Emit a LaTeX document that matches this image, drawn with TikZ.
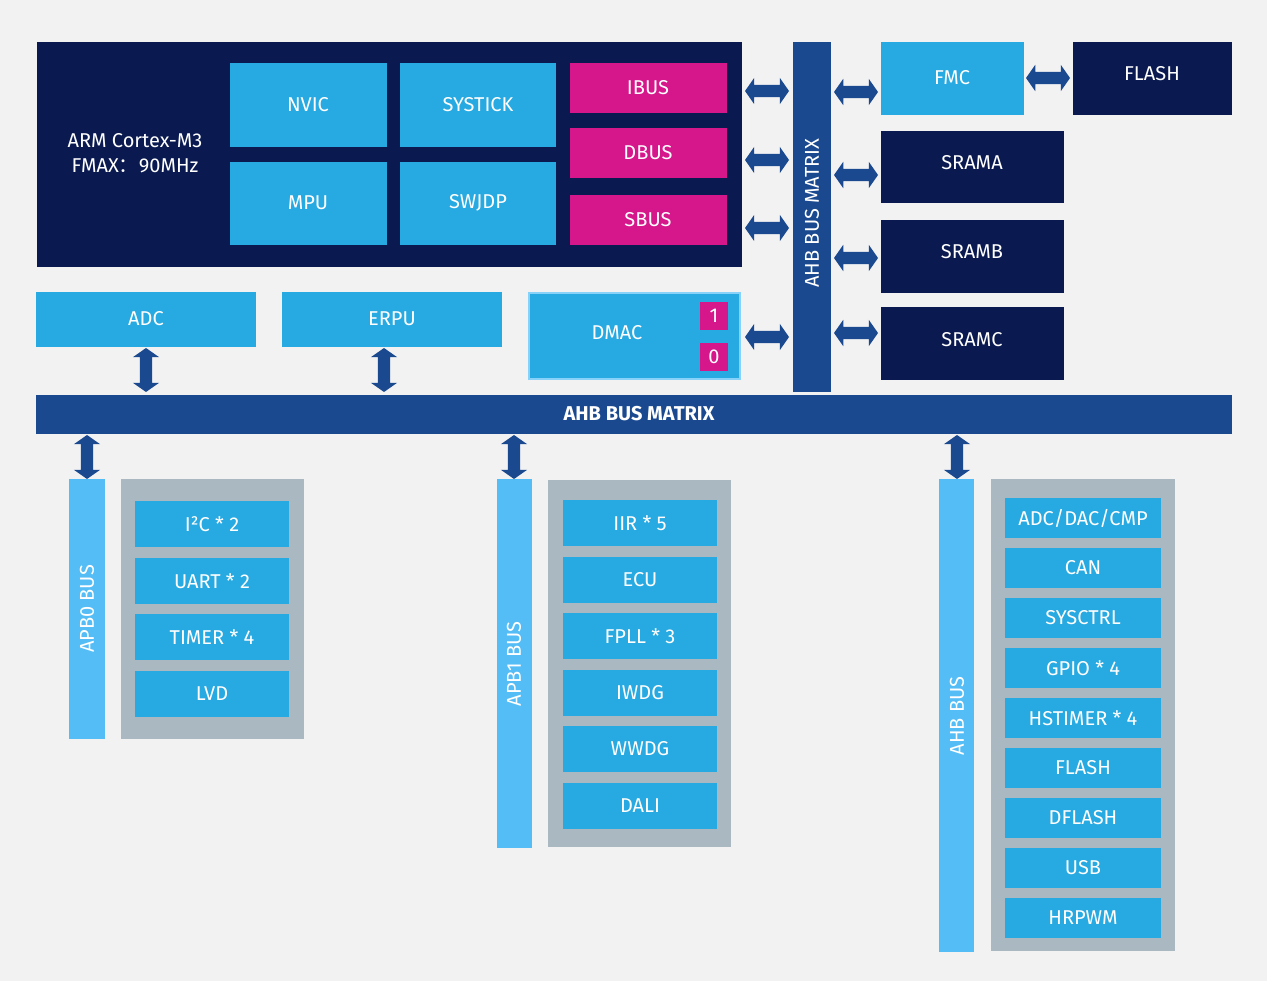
\documentclass[tikz,border=0pt]{standalone}
\usepackage{fontspec}
\setmainfont{Fira Sans}
\newfontfamily\cjk{Noto Sans CJK SC}
\usetikzlibrary{shapes.arrows}
\definecolor{bg}{HTML}{F2F2F2}
\definecolor{navy}{HTML}{0A1A50}
\definecolor{lblue}{HTML}{27A9E1}
\definecolor{mag}{HTML}{D6168B}
\definecolor{bus}{HTML}{1A4990}
\definecolor{sbus}{HTML}{55BDF6}
\definecolor{gpanel}{HTML}{A9B8C1}
\begin{document}
\begin{tikzpicture}[x=1pt,y=-1pt,
  bx/.style={draw=none,text=white,font=\fontsize{20}{22}\selectfont},
  dar/.style={double arrow,fill=bus,draw=none,inner sep=6pt,minimum width=0pt,double arrow head extend=7pt,double arrow tip angle=110,minimum height=44pt},
  vdar/.style={dar,shape border rotate=90}]
\fill[bg] (0,0) rectangle (1267,981);
\useasboundingbox (0,0) rectangle (1267,981);
% core
\fill[navy] (37,42) rectangle (742,267);
\node[bx,align=center,font=\fontsize{20}{25}\selectfont] (core) at (135,153) {ARM Cortex-M3\\FMAX{\cjk ：}90MHz};
\fill[lblue] (230,63) rectangle (387,147); \node[bx] (nvic) at (308,105) {NVIC};
\fill[lblue] (400,63) rectangle (556,147); \node[bx] (systick) at (478,105) {SYSTICK};
\fill[lblue] (230,162) rectangle (387,245); \node[bx] (mpu) at (308,203) {MPU};
\fill[lblue] (400,162) rectangle (556,245); \node[bx] (swjdp) at (478,203) {SWJDP};
\fill[mag] (570,63) rectangle (727,113); \node[bx] (ibus) at (648,88) {IBUS};
\fill[mag] (570,128) rectangle (727,178); \node[bx] (dbus) at (648,153) {DBUS};
\fill[mag] (570,195) rectangle (727,245); \node[bx] (sbusn) at (648,220) {SBUS};
% vertical matrix
\fill[bus] (793,42) rectangle (831,392);
\node[bx,rotate=90] (vm) at (812,213) {AHB BUS MATRIX};
% right side
\fill[lblue] (881,42) rectangle (1024,115); \node[bx] (fmc) at (952,78) {FMC};
\fill[navy] (1073,42) rectangle (1232,115); \node[bx] (flash) at (1152,74) {FLASH};
\fill[navy] (881,131) rectangle (1064,203); \node[bx] (srama) at (972,163) {SRAMA};
\fill[navy] (881,220) rectangle (1064,293); \node[bx] (sramb) at (972,252) {SRAMB};
\fill[navy] (881,307) rectangle (1064,380); \node[bx] (sramc) at (972,340) {SRAMC};
% middle row
\fill[lblue] (36,292) rectangle (256,347); \node[bx] (adc) at (146,319) {ADC};
\fill[lblue] (282,292) rectangle (502,347); \node[bx] (erpu) at (392,319) {ERPU};
\filldraw[fill=lblue,draw=sbus!70!white,line width=2pt] (529,293) rectangle (740,379); \node[bx] (dmac) at (617,333) {DMAC};
\fill[mag] (700,302) rectangle (728,330); \node[bx] (d1) at (714,316) {1};
\fill[mag] (700,343) rectangle (728,371); \node[bx] (d0) at (714,357) {0};
% horizontal bus
\fill[bus] (36,395) rectangle (1232,434);
\node[bx,font=\fontsize{20}{22}\selectfont\bfseries] (hm) at (639,414) {AHB BUS MATRIX};
% arrows
\node[dar] (a1) at (767,91) {};
\node[dar] (a2) at (767,160) {};
\node[dar] (a3) at (767,228) {};
\node[dar] (a4) at (767,337) {};
\node[dar] (b1) at (856,92) {};
\node[dar] (b2) at (856,175) {};
\node[dar] (b3) at (856,258) {};
\node[dar] (b4) at (856,333) {};
\node[dar] (c1) at (1048,78) {};
\node[vdar] (v1) at (146,370) {};
\node[vdar] (v2) at (384,370) {};
\node[vdar] (v3) at (87,457) {};
\node[vdar] (v4) at (514,457) {};
\node[vdar] (v5) at (957,457) {};
% APB0
\fill[sbus] (69,479) rectangle (105,739);
\node[bx,rotate=90] (apb0) at (87,609) {APB0 BUS};
\fill[gpanel] (121,479) rectangle (304,739);
\foreach \t/\y [count=\i] in {I²C * 2/501,UART * 2/558,TIMER * 4/614,LVD/671}{
  \fill[lblue] (135,\y) rectangle (289,\y+46);
  \node[bx] (p0\i) at (212,\y+23) {\t};}
% APB1
\fill[sbus] (497,479) rectangle (532,848);
\node[bx,rotate=90] (apb1) at (514,664) {APB1 BUS};
\fill[gpanel] (548,480) rectangle (731,847);
\foreach \t/\y [count=\i] in {IIR * 5/500,ECU/557,FPLL * 3/613,IWDG/670,WWDG/726,DALI/783}{
  \fill[lblue] (563,\y) rectangle (717,\y+46);
  \node[bx] (p1\i) at (640,\y+23) {\t};}
% AHB
\fill[sbus] (939,479) rectangle (974,952);
\node[bx,rotate=90] (ahb) at (957,716) {AHB BUS};
\fill[gpanel] (991,479) rectangle (1175,951);
\foreach \t [count=\i] in {ADC/DAC/CMP,CAN,SYSCTRL,GPIO * 4,HSTIMER * 4,FLASH,DFLASH,USB,HRPWM}{
  \pgfmathsetmacro\y{498+50*(\i-1)}
  \fill[lblue] (1005,\y) rectangle (1161,\y+40);
  \node[bx] (p2\i) at (1083,\y+20) {\t};}
\end{tikzpicture}
\end{document}
